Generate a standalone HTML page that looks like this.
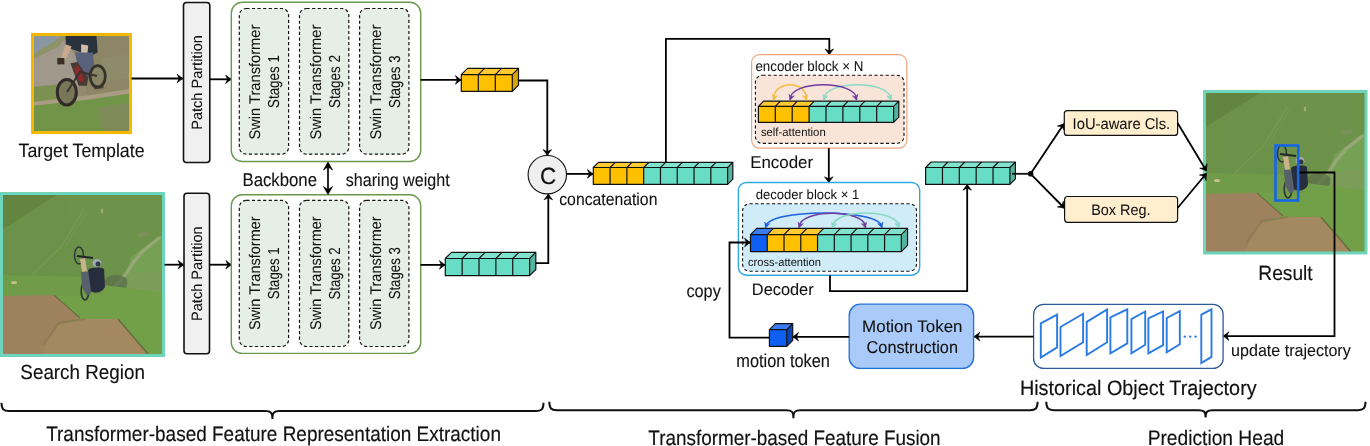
<!DOCTYPE html>
<html><head><meta charset="utf-8"><style>
html,body{margin:0;padding:0;background:#fff;width:1370px;height:446px;overflow:hidden}
svg{display:block;will-change:transform;text-rendering:geometricPrecision;font-family:"Liberation Sans",sans-serif}
</style></head><body>
<svg width="1370" height="446" viewBox="0 0 1370 446">
<rect width="1370" height="446" fill="#fff"/>
<defs><clipPath id="cpT"><rect x="33" y="35" width="97" height="98"/></clipPath><filter id="blur1" x="-10%" y="-10%" width="120%" height="120%"><feGaussianBlur stdDeviation="0.6"/></filter><filter id="blur2" x="-10%" y="-10%" width="120%" height="120%"><feGaussianBlur stdDeviation="0.7"/></filter></defs>
<g clip-path="url(#cpT)"><g filter="url(#blur1)">
<rect x="30" y="30" width="104" height="106" fill="#928A70"/>
<polygon points="65.6,30.0 134.0,30.0 134.0,91.8 89.4,101.3 77.5,58.5" fill="#8C8666" opacity="1"/>
<polygon points="30.0,53.8 65.6,39.5 82.3,68.0 77.5,91.8 30.0,91.8" fill="#A0988A" opacity="1"/>
<polygon points="30.0,30.0 68.0,30.0 53.8,41.9 30.0,56.1" fill="#8A96A2" opacity="1"/>
<polygon points="30.0,56.1 53.8,41.9 68.0,30.0 71.6,30.0 58.5,46.6 30.0,60.9" fill="#8E9468" opacity="1"/>
<polygon points="30.0,87.0 58.5,84.6 58.5,101.3 30.0,103.6" fill="#7C9150" opacity="1"/>
<polygon points="30.0,102.4 89.4,95.3 134.0,88.2 134.0,95.3 89.4,101.3 30.0,109.6" fill="#A89C82" opacity="1"/>
<polygon points="30.0,106.0 89.4,99.4 134.0,92.9 134.0,135.9 30.0,135.9" fill="#71944A" opacity="1"/>
<polygon points="96.5,108.4 134.0,101.3 134.0,135.9 106.0,135.9" fill="#7E8A58" opacity="1"/>
<polygon points="101.3,58.5 134.0,53.8 134.0,77.5 106.0,82.3" fill="#8E8A6A" opacity="1"/>
<polygon points="65.6,35.9 96.5,35.9 97.7,52.6 90.6,56.1 81.1,52.6 71.6,49.0 65.6,46.6" fill="#2C323E" opacity="1"/>
<polygon points="65.6,44.3 71.6,46.6 65.6,59.7 60.9,58.5" fill="#C9A88E" opacity="1"/>
<polygon points="57.3,58.0 64.4,58.0 64.4,64.4 57.3,64.4" fill="#3A2E28" opacity="1"/>
<polygon points="81.1,44.3 88.2,45.4 87.0,58.5 81.1,58.5" fill="#D2BCA8" opacity="1"/>
<polygon points="75.1,52.6 92.9,52.6 94.1,68.0 101.3,81.1 97.7,87.0 88.2,77.5 77.5,65.6" fill="#58627A" opacity="1"/>
<polygon points="91.8,79.9 102.4,78.7 103.6,88.2 94.1,89.4" fill="#5A4A40" opacity="1"/>
<polygon points="70.4,63.3 77.5,62.1 88.2,77.5 87.0,85.8 78.7,85.8" fill="#4A3A34" opacity="1"/>
<polygon points="73.9,68.0 78.7,66.1 84.2,80.4 79.9,82.7" fill="#8E2A2A" opacity="1"/>
<ellipse cx="66.8" cy="92.2" rx="9.5" ry="12.8" fill="#7A7658" stroke="#302C28" stroke-width="3"/>
<ellipse cx="97.7" cy="76.3" rx="7.6" ry="10.7" fill="#8A8466" stroke="#34302A" stroke-width="2.8"/>
<path d="M67 92 L80 72 L97 76" stroke="#3A3030" stroke-width="2" fill="none"/>
</g></g>
<rect x="32.5" y="34.5" width="98" height="98" fill="none" stroke="#F5B800" stroke-width="3"/>
<text x="18.62" y="157.00" font-size="19.11" text-anchor="start" fill="#111" stroke="#111" stroke-width="0.12" textLength="125.92" lengthAdjust="spacingAndGlyphs">Target Template</text>
<defs><g id="photo"><g filter="url(#blur2)"><rect x="-4" y="-4" width="168" height="168" fill="#6C9248"/><polygon points="-4.0,-4.0 60.0,-4.0 0.0,34.0 -4.0,34.0" fill="#648542" opacity="1"/><polygon points="60.0,-4.0 164.0,-4.0 164.0,60.0 120.0,90.0 80.0,70.0" fill="#6D924A" opacity="1"/><polygon points="128.0,62.0 164.0,36.0 164.0,100.0 118.0,100.0" fill="#76A052" opacity="1"/><path d="M81 14 L58 52 L25 84" stroke="#7E9C62" stroke-width="1.2" fill="none" opacity="0.6"/><path d="M84 16 L62 52" stroke="#7E9C62" stroke-width="1" fill="none" opacity="0.5"/><path d="M156 43 L140 56 L130 68 L122 80 L112 92" stroke="#A8AC88" stroke-width="3.5" fill="none" stroke-linecap="round" opacity="0.65"/><path d="M146 38 L136 40" stroke="#8A8E6A" stroke-width="4" fill="none" opacity="0.6"/><ellipse cx="113" cy="88" rx="12" ry="8" fill="#5E704A" opacity="0.8"/><polygon points="124.0,80.0 164.0,74.0 164.0,100.0 124.0,100.0" fill="#7E9C5C" opacity="0.8"/><polygon points="-4.0,82.0 100.0,90.0 164.0,98.0 164.0,164.0 -4.0,164.0" fill="#71A04A" opacity="1"/><polygon points="-4.0,80.0 90.0,82.0 100.0,100.0 -4.0,101.0" fill="#6F9C48" opacity="1"/><ellipse cx="11" cy="87.5" rx="3" ry="1.5" fill="#C8C090"/><ellipse cx="99" cy="16" rx="1.3" ry="2.6" fill="#B8B888" opacity="0.7"/><polygon points="-4.0,101.0 51.0,100.0 77.0,123.0 54.0,130.0 35.0,164.0 -4.0,164.0" fill="#9E8260" opacity="1"/><polygon points="35.0,164.0 54.0,130.0 81.0,124.0 115.0,124.0 144.0,158.0 148.0,164.0" fill="#A4885F" opacity="1"/><path d="M115 124 L145 159" stroke="#50502E" stroke-width="1.5" fill="none" opacity="0.6"/><path d="M51 100 L77 123" stroke="#50502E" stroke-width="1.2" fill="none" opacity="0.5"/><path d="M40 150 L56 128 L82 124" stroke="#8A6E50" stroke-width="2" fill="none" opacity="0.5"/><ellipse cx="76" cy="60.5" rx="4.5" ry="8.5" fill="none" stroke="#30363A" stroke-width="1.5"/><ellipse cx="82" cy="96" rx="3.8" ry="9" fill="none" stroke="#2E3430" stroke-width="1.6"/><path d="M74 61 L90 63" stroke="#22262A" stroke-width="2"/><polygon points="78.0,76.0 88.0,78.0 90.0,96.0 84.0,101.0 79.0,92.0" fill="#59606C" opacity="1"/><polygon points="77.0,64.0 82.0,63.0 84.0,76.0 79.0,77.0" fill="#C9B48A" opacity="1"/><path d="M85 75 C88 72 98 72 101 74 L102 92 C99 98 92 99 88 96 Z" fill="#262D3D"/><ellipse cx="94" cy="68" rx="4.5" ry="4" fill="#A4A8B2"/><ellipse cx="95" cy="69" rx="2.5" ry="2.5" fill="#303848"/></g></g><clipPath id="cpS"><rect x="3" y="195" width="159" height="159"/></clipPath><clipPath id="cpR"><rect x="1206" y="93" width="159" height="159"/></clipPath></defs>
<g clip-path="url(#cpS)"><use href="#photo" x="3.0" y="195.0"/></g>
<rect x="1.50" y="193.50" width="162.00" height="162.00" fill="none" stroke="#6ED5BC" stroke-width="3.0"/>
<text x="20.37" y="379.10" font-size="20.29" text-anchor="start" fill="#111" stroke="#111" stroke-width="0.15" textLength="124.54" lengthAdjust="spacingAndGlyphs">Search Region</text>
<path d="M131.50 78.50 L182.70 78.50" fill="none" stroke="#000" stroke-width="1.80" stroke-linejoin="miter"/>
<polygon points="182.70,78.50 177.10,82.80 179.10,78.50 177.10,74.20" fill="#000" stroke="#000" stroke-width="0.6" stroke-linejoin="round"/>
<path d="M164.50 264.70 L183.70 264.70" fill="none" stroke="#000" stroke-width="1.80" stroke-linejoin="miter"/>
<polygon points="183.70,264.70 178.10,269.00 180.10,264.70 178.10,260.40" fill="#000" stroke="#000" stroke-width="0.6" stroke-linejoin="round"/>
<rect x="183.5" y="2.5" width="26.3" height="160" rx="3" fill="#F0F0F0" stroke="#111" stroke-width="1.6"/>
<rect x="184" y="193.2" width="25.5" height="160.5" rx="3" fill="#F0F0F0" stroke="#111" stroke-width="1.6"/>
<text x="202.00" y="129.82" font-size="14.93" text-anchor="start" fill="#111" stroke="#111" stroke-width="0.04" textLength="94.65" lengthAdjust="spacingAndGlyphs" transform="rotate(-90 202.00 129.82)">Patch Partition</text>
<text x="202.00" y="320.96" font-size="15.12" text-anchor="start" fill="#111" stroke="#111" stroke-width="0.04" textLength="94.66" lengthAdjust="spacingAndGlyphs" transform="rotate(-90 202.00 320.96)">Patch Partition</text>
<path d="M209.80 79.30 L231.20 79.30" fill="none" stroke="#000" stroke-width="1.80" stroke-linejoin="miter"/>
<polygon points="231.20,79.30 225.60,83.60 227.60,79.30 225.60,75.00" fill="#000" stroke="#000" stroke-width="0.6" stroke-linejoin="round"/>
<path d="M209.40 264.70 L231.40 264.70" fill="none" stroke="#000" stroke-width="1.80" stroke-linejoin="miter"/>
<polygon points="231.40,264.70 225.80,269.00 227.80,264.70 225.80,260.40" fill="#000" stroke="#000" stroke-width="0.6" stroke-linejoin="round"/>
<rect x="231.3" y="2.20" width="189.4" height="159.30" rx="11" fill="#FFFFFF" stroke="#6B9A4F" stroke-width="1.4"/>
<rect x="239.30" y="8.50" width="49.3" height="145.70" rx="7" fill="#E6EFE6" stroke="#111" stroke-width="1.2" stroke-dasharray="3.2 2.4"/>
<text x="260.50" y="139.54" font-size="15.46" text-anchor="start" fill="#111" stroke="#111" stroke-width="0.05" textLength="114.86" lengthAdjust="spacingAndGlyphs" transform="rotate(-90 260.50 139.54)">Swin Transformer</text>
<text x="279.40" y="108.00" font-size="15.89" text-anchor="start" fill="#111" stroke="#111" stroke-width="0.06" textLength="52.87" lengthAdjust="spacingAndGlyphs" transform="rotate(-90 279.40 108.00)">Stages 1</text>
<rect x="299.50" y="8.50" width="49.3" height="145.70" rx="7" fill="#E6EFE6" stroke="#111" stroke-width="1.2" stroke-dasharray="3.2 2.4"/>
<text x="320.70" y="139.54" font-size="15.46" text-anchor="start" fill="#111" stroke="#111" stroke-width="0.05" textLength="114.86" lengthAdjust="spacingAndGlyphs" transform="rotate(-90 320.70 139.54)">Swin Transformer</text>
<text x="339.60" y="108.00" font-size="15.89" text-anchor="start" fill="#111" stroke="#111" stroke-width="0.06" textLength="52.87" lengthAdjust="spacingAndGlyphs" transform="rotate(-90 339.60 108.00)">Stages 2</text>
<rect x="359.60" y="8.50" width="49.3" height="145.70" rx="7" fill="#E6EFE6" stroke="#111" stroke-width="1.2" stroke-dasharray="3.2 2.4"/>
<text x="380.80" y="139.54" font-size="15.46" text-anchor="start" fill="#111" stroke="#111" stroke-width="0.05" textLength="114.86" lengthAdjust="spacingAndGlyphs" transform="rotate(-90 380.80 139.54)">Swin Transformer</text>
<text x="399.70" y="107.98" font-size="15.88" text-anchor="start" fill="#111" stroke="#111" stroke-width="0.06" textLength="52.64" lengthAdjust="spacingAndGlyphs" transform="rotate(-90 399.70 107.98)">Stages 3</text>
<rect x="231.3" y="194.70" width="189.4" height="158.70" rx="11" fill="#FFFFFF" stroke="#6B9A4F" stroke-width="1.4"/>
<rect x="239.30" y="200.40" width="49.3" height="146.10" rx="7" fill="#E6EFE6" stroke="#111" stroke-width="1.2" stroke-dasharray="3.2 2.4"/>
<text x="260.50" y="330.07" font-size="15.48" text-anchor="start" fill="#111" stroke="#111" stroke-width="0.05" textLength="113.76" lengthAdjust="spacingAndGlyphs" transform="rotate(-90 260.50 330.07)">Swin Transformer</text>
<text x="279.40" y="299.36" font-size="15.94" text-anchor="start" fill="#111" stroke="#111" stroke-width="0.06" textLength="52.01" lengthAdjust="spacingAndGlyphs" transform="rotate(-90 279.40 299.36)">Stages 1</text>
<rect x="299.50" y="200.40" width="49.3" height="146.10" rx="7" fill="#E6EFE6" stroke="#111" stroke-width="1.2" stroke-dasharray="3.2 2.4"/>
<text x="320.70" y="330.07" font-size="15.48" text-anchor="start" fill="#111" stroke="#111" stroke-width="0.05" textLength="113.76" lengthAdjust="spacingAndGlyphs" transform="rotate(-90 320.70 330.07)">Swin Transformer</text>
<text x="339.60" y="299.48" font-size="15.92" text-anchor="start" fill="#111" stroke="#111" stroke-width="0.06" textLength="52.16" lengthAdjust="spacingAndGlyphs" transform="rotate(-90 339.60 299.48)">Stages 2</text>
<rect x="359.60" y="200.40" width="49.3" height="146.10" rx="7" fill="#E6EFE6" stroke="#111" stroke-width="1.2" stroke-dasharray="3.2 2.4"/>
<text x="380.80" y="330.07" font-size="15.48" text-anchor="start" fill="#111" stroke="#111" stroke-width="0.05" textLength="113.76" lengthAdjust="spacingAndGlyphs" transform="rotate(-90 380.80 330.07)">Swin Transformer</text>
<text x="399.70" y="299.36" font-size="15.91" text-anchor="start" fill="#111" stroke="#111" stroke-width="0.06" textLength="52.17" lengthAdjust="spacingAndGlyphs" transform="rotate(-90 399.70 299.36)">Stages 3</text>
<path d="M328 165 V191" stroke="#111" stroke-width="1.8"/>
<polygon points="328.00,162.00 332.60,170.00 328.00,167.00 323.40,170.00" fill="#000" stroke="#000" stroke-width="0.6" stroke-linejoin="round"/>
<polygon points="328.00,194.50 323.40,186.50 328.00,189.50 332.60,186.50" fill="#000" stroke="#000" stroke-width="0.6" stroke-linejoin="round"/>
<text x="242.46" y="185.70" font-size="18.40" text-anchor="start" fill="#111" stroke="#111" stroke-width="0.11" textLength="74.55" lengthAdjust="spacingAndGlyphs">Backbone</text>
<text x="345.76" y="185.60" font-size="17.95" text-anchor="start" fill="#111" stroke="#111" stroke-width="0.10" textLength="103.92" lengthAdjust="spacingAndGlyphs">sharing weight</text>
<path d="M420.60 79.90 L461.00 79.90" fill="none" stroke="#000" stroke-width="1.80" stroke-linejoin="miter"/>
<polygon points="461.00,79.90 455.40,84.20 457.40,79.90 455.40,75.60" fill="#000" stroke="#000" stroke-width="0.6" stroke-linejoin="round"/>
<rect x="461.30" y="74.60" width="17.00" height="16.80" fill="#FFC000"/>
<polygon points="461.30,74.60 467.50,68.40 484.50,68.40 478.30,74.60" fill="#FFCB30"/>
<rect x="478.30" y="74.60" width="17.00" height="16.80" fill="#FFC000"/>
<polygon points="478.30,74.60 484.50,68.40 501.50,68.40 495.30,74.60" fill="#FFCB30"/>
<rect x="495.30" y="74.60" width="17.00" height="16.80" fill="#FFC000"/>
<polygon points="495.30,74.60 501.50,68.40 518.50,68.40 512.30,74.60" fill="#FFCB30"/>
<polygon points="512.30,74.60 518.50,68.40 518.50,85.20 512.30,91.40" fill="#D9A400"/>
<path d="M461.30 74.60 H512.30 V91.40 H461.30 Z M461.30 74.60 L467.50 68.40 H518.50 L512.30 74.60 M518.50 68.40 V85.20 L512.30 91.40 M478.30 91.40 V74.60 M478.30 74.60 L484.50 68.40 M495.30 91.40 V74.60 M495.30 74.60 L501.50 68.40" fill="none" stroke="#111" stroke-width="1.20" stroke-linejoin="round"/>
<path d="M420.40 264.90 L445.00 264.90" fill="none" stroke="#000" stroke-width="1.80" stroke-linejoin="miter"/>
<polygon points="445.00,264.90 439.40,269.20 441.40,264.90 439.40,260.60" fill="#000" stroke="#000" stroke-width="0.6" stroke-linejoin="round"/>
<rect x="445.30" y="258.50" width="16.86" height="17.20" fill="#67DDC6"/>
<polygon points="445.30,258.50 451.50,252.30 468.36,252.30 462.16,258.50" fill="#7FE3CF"/>
<rect x="462.16" y="258.50" width="16.86" height="17.20" fill="#67DDC6"/>
<polygon points="462.16,258.50 468.36,252.30 485.22,252.30 479.02,258.50" fill="#7FE3CF"/>
<rect x="479.02" y="258.50" width="16.86" height="17.20" fill="#67DDC6"/>
<polygon points="479.02,258.50 485.22,252.30 502.08,252.30 495.88,258.50" fill="#7FE3CF"/>
<rect x="495.88" y="258.50" width="16.86" height="17.20" fill="#67DDC6"/>
<polygon points="495.88,258.50 502.08,252.30 518.94,252.30 512.74,258.50" fill="#7FE3CF"/>
<rect x="512.74" y="258.50" width="16.86" height="17.20" fill="#67DDC6"/>
<polygon points="512.74,258.50 518.94,252.30 535.80,252.30 529.60,258.50" fill="#7FE3CF"/>
<polygon points="529.60,258.50 535.80,252.30 535.80,269.50 529.60,275.70" fill="#52B59F"/>
<path d="M445.30 258.50 H529.60 V275.70 H445.30 Z M445.30 258.50 L451.50 252.30 H535.80 L529.60 258.50 M535.80 252.30 V269.50 L529.60 275.70 M462.16 275.70 V258.50 M462.16 258.50 L468.36 252.30 M479.02 275.70 V258.50 M479.02 258.50 L485.22 252.30 M495.88 275.70 V258.50 M495.88 258.50 L502.08 252.30 M512.74 275.70 V258.50 M512.74 258.50 L518.94 252.30" fill="none" stroke="#111" stroke-width="1.20" stroke-linejoin="round"/>
<path d="M518.50 80.50 L547.30 80.50 L547.30 155.20" fill="none" stroke="#000" stroke-width="1.80" stroke-linejoin="miter"/>
<polygon points="547.30,155.20 543.00,149.60 547.30,151.60 551.60,149.60" fill="#000" stroke="#000" stroke-width="0.6" stroke-linejoin="round"/>
<path d="M535.50 263.20 L548.30 263.20 L548.30 194.20" fill="none" stroke="#000" stroke-width="1.80" stroke-linejoin="miter"/>
<polygon points="548.30,194.20 552.60,199.80 548.30,197.80 544.00,199.80" fill="#000" stroke="#000" stroke-width="0.6" stroke-linejoin="round"/>
<circle cx="547.3" cy="174.7" r="19.2" fill="#EFEFEF" stroke="#111" stroke-width="1.1"/>
<text x="540.03" y="183.60" font-size="23.50" text-anchor="start" fill="#111" stroke="#111" stroke-width="0.21" textLength="16.21" lengthAdjust="spacingAndGlyphs">C</text>
<path d="M566.50 173.90 L593.00 173.90" fill="none" stroke="#000" stroke-width="1.80" stroke-linejoin="miter"/>
<polygon points="593.00,173.90 587.40,178.20 589.40,173.90 587.40,169.60" fill="#000" stroke="#000" stroke-width="0.6" stroke-linejoin="round"/>
<rect x="593.30" y="167.50" width="16.79" height="16.90" fill="#FFC000"/>
<polygon points="593.30,167.50 598.50,162.30 615.29,162.30 610.09,167.50" fill="#FFCB30"/>
<rect x="610.09" y="167.50" width="16.79" height="16.90" fill="#FFC000"/>
<polygon points="610.09,167.50 615.29,162.30 632.08,162.30 626.88,167.50" fill="#FFCB30"/>
<rect x="626.88" y="167.50" width="16.79" height="16.90" fill="#FFC000"/>
<polygon points="626.88,167.50 632.08,162.30 648.87,162.30 643.67,167.50" fill="#FFCB30"/>
<rect x="643.67" y="167.50" width="16.79" height="16.90" fill="#67DDC6"/>
<polygon points="643.67,167.50 648.87,162.30 665.66,162.30 660.46,167.50" fill="#7FE3CF"/>
<rect x="660.46" y="167.50" width="16.79" height="16.90" fill="#67DDC6"/>
<polygon points="660.46,167.50 665.66,162.30 682.45,162.30 677.25,167.50" fill="#7FE3CF"/>
<rect x="677.25" y="167.50" width="16.79" height="16.90" fill="#67DDC6"/>
<polygon points="677.25,167.50 682.45,162.30 699.24,162.30 694.04,167.50" fill="#7FE3CF"/>
<rect x="694.04" y="167.50" width="16.79" height="16.90" fill="#67DDC6"/>
<polygon points="694.04,167.50 699.24,162.30 716.03,162.30 710.83,167.50" fill="#7FE3CF"/>
<rect x="710.83" y="167.50" width="16.79" height="16.90" fill="#67DDC6"/>
<polygon points="710.83,167.50 716.03,162.30 732.82,162.30 727.62,167.50" fill="#7FE3CF"/>
<polygon points="727.62,167.50 732.82,162.30 732.82,179.20 727.62,184.40" fill="#52B59F"/>
<path d="M593.30 167.50 H727.62 V184.40 H593.30 Z M593.30 167.50 L598.50 162.30 H732.82 L727.62 167.50 M732.82 162.30 V179.20 L727.62 184.40 M610.09 184.40 V167.50 M610.09 167.50 L615.29 162.30 M626.88 184.40 V167.50 M626.88 167.50 L632.08 162.30 M643.67 184.40 V167.50 M643.67 167.50 L648.87 162.30 M660.46 184.40 V167.50 M660.46 167.50 L665.66 162.30 M677.25 184.40 V167.50 M677.25 167.50 L682.45 162.30 M694.04 184.40 V167.50 M694.04 167.50 L699.24 162.30 M710.83 184.40 V167.50 M710.83 167.50 L716.03 162.30" fill="none" stroke="#111" stroke-width="1.20" stroke-linejoin="round"/>
<text x="559.24" y="204.80" font-size="17.31" text-anchor="start" fill="#111" stroke="#111" stroke-width="0.09" textLength="98.17" lengthAdjust="spacingAndGlyphs">concatenation</text>
<path d="M665.90 162.50 L665.90 38.90 L829.30 38.90 L829.30 54.60" fill="none" stroke="#000" stroke-width="1.80" stroke-linejoin="miter"/>
<polygon points="829.30,54.60 825.00,49.00 829.30,51.00 833.60,49.00" fill="#000" stroke="#000" stroke-width="0.6" stroke-linejoin="round"/>
<rect x="751.6" y="54.6" width="155.2" height="93.5" rx="8" fill="#FFFFFF" stroke="#F2A57E" stroke-width="1.2"/>
<rect x="755.4" y="75.3" width="148.6" height="68.1" rx="7" fill="#F9E4DA" stroke="#111" stroke-width="1.1" stroke-dasharray="3.2 2.4"/>
<text x="755.41" y="71.30" font-size="14.28" text-anchor="start" fill="#111" stroke="#111" stroke-width="0.03" textLength="107.92" lengthAdjust="spacingAndGlyphs">encoder block × N</text>
<rect x="758.40" y="106.40" width="16.90" height="16.00" fill="#FFC000"/>
<polygon points="758.40,106.40 763.60,101.20 780.50,101.20 775.30,106.40" fill="#FFCB30"/>
<rect x="775.30" y="106.40" width="16.90" height="16.00" fill="#FFC000"/>
<polygon points="775.30,106.40 780.50,101.20 797.40,101.20 792.20,106.40" fill="#FFCB30"/>
<rect x="792.20" y="106.40" width="16.90" height="16.00" fill="#FFC000"/>
<polygon points="792.20,106.40 797.40,101.20 814.30,101.20 809.10,106.40" fill="#FFCB30"/>
<rect x="809.10" y="106.40" width="16.90" height="16.00" fill="#67DDC6"/>
<polygon points="809.10,106.40 814.30,101.20 831.20,101.20 826.00,106.40" fill="#7FE3CF"/>
<rect x="826.00" y="106.40" width="16.90" height="16.00" fill="#67DDC6"/>
<polygon points="826.00,106.40 831.20,101.20 848.10,101.20 842.90,106.40" fill="#7FE3CF"/>
<rect x="842.90" y="106.40" width="16.90" height="16.00" fill="#67DDC6"/>
<polygon points="842.90,106.40 848.10,101.20 865.00,101.20 859.80,106.40" fill="#7FE3CF"/>
<rect x="859.80" y="106.40" width="16.90" height="16.00" fill="#67DDC6"/>
<polygon points="859.80,106.40 865.00,101.20 881.90,101.20 876.70,106.40" fill="#7FE3CF"/>
<rect x="876.70" y="106.40" width="16.90" height="16.00" fill="#67DDC6"/>
<polygon points="876.70,106.40 881.90,101.20 898.80,101.20 893.60,106.40" fill="#7FE3CF"/>
<polygon points="893.60,106.40 898.80,101.20 898.80,117.20 893.60,122.40" fill="#52B59F"/>
<path d="M758.40 106.40 H893.60 V122.40 H758.40 Z M758.40 106.40 L763.60 101.20 H898.80 L893.60 106.40 M898.80 101.20 V117.20 L893.60 122.40 M775.30 122.40 V106.40 M775.30 106.40 L780.50 101.20 M792.20 122.40 V106.40 M792.20 106.40 L797.40 101.20 M809.10 122.40 V106.40 M809.10 106.40 L814.30 101.20 M826.00 122.40 V106.40 M826.00 106.40 L831.20 101.20 M842.90 122.40 V106.40 M842.90 106.40 L848.10 101.20 M859.80 122.40 V106.40 M859.80 106.40 L865.00 101.20 M876.70 122.40 V106.40 M876.70 106.40 L881.90 101.20" fill="none" stroke="#111" stroke-width="1.20" stroke-linejoin="round"/>
<path d="M773.50 99.50 C773.50 79.77 806.50 79.77 806.50 99.50" fill="none" stroke="#F2BE3C" stroke-width="1.5"/>
<polygon points="773.50,100.30 772.49,94.26 774.59,96.66 777.67,95.81" fill="#F2BE3C" stroke="#F2BE3C" stroke-width="0.6" stroke-linejoin="round"/>
<polygon points="806.50,100.30 802.33,95.81 805.41,96.66 807.51,94.26" fill="#F2BE3C" stroke="#F2BE3C" stroke-width="0.6" stroke-linejoin="round"/>
<path d="M823.90 99.50 C823.90 79.77 890.80 79.77 890.80 99.50" fill="none" stroke="#86D9C4" stroke-width="1.5"/>
<polygon points="823.90,100.30 822.89,94.26 824.99,96.66 828.07,95.81" fill="#86D9C4" stroke="#86D9C4" stroke-width="0.6" stroke-linejoin="round"/>
<polygon points="890.80,100.30 886.63,95.81 889.71,96.66 891.81,94.26" fill="#86D9C4" stroke="#86D9C4" stroke-width="0.6" stroke-linejoin="round"/>
<path d="M790.10 99.50 C790.10 79.77 856.60 79.77 856.60 99.50" fill="none" stroke="#6E3CA0" stroke-width="1.5"/>
<polygon points="790.10,100.30 789.09,94.26 791.19,96.66 794.27,95.81" fill="#6E3CA0" stroke="#6E3CA0" stroke-width="0.6" stroke-linejoin="round"/>
<polygon points="856.60,100.30 852.43,95.81 855.51,96.66 857.61,94.26" fill="#6E3CA0" stroke="#6E3CA0" stroke-width="0.6" stroke-linejoin="round"/>
<text x="760.90" y="136.00" font-size="11.77" text-anchor="start" fill="#111" stroke="#111" stroke-width="0.00" textLength="64.79" lengthAdjust="spacingAndGlyphs">self-attention</text>
<text x="750.14" y="168.10" font-size="17.12" text-anchor="start" fill="#111" stroke="#111" stroke-width="0.08" textLength="62.96" lengthAdjust="spacingAndGlyphs">Encoder</text>
<path d="M828.80 148.20 L828.80 182.40" fill="none" stroke="#000" stroke-width="1.80" stroke-linejoin="miter"/>
<polygon points="828.80,182.40 824.50,176.80 828.80,178.80 833.10,176.80" fill="#000" stroke="#000" stroke-width="0.6" stroke-linejoin="round"/>
<rect x="738.4" y="182.5" width="181.3" height="92.7" rx="8" fill="#FFFFFF" stroke="#2FA8E0" stroke-width="1.4"/>
<rect x="742.6" y="203.7" width="173.9" height="67.5" rx="7" fill="#D0ECF8" stroke="#111" stroke-width="1.1" stroke-dasharray="3.2 2.4"/>
<text x="755.67" y="199.20" font-size="13.39" text-anchor="start" fill="#111" stroke="#111" stroke-width="0.01" textLength="103.73" lengthAdjust="spacingAndGlyphs">decoder block × 1</text>
<rect x="750.50" y="234.60" width="16.76" height="17.00" fill="#0F5FF2"/>
<polygon points="750.50,234.60 756.70,228.40 773.46,228.40 767.26,234.60" fill="#3A7CF2"/>
<rect x="767.26" y="234.60" width="16.76" height="17.00" fill="#FFC000"/>
<polygon points="767.26,234.60 773.46,228.40 790.22,228.40 784.02,234.60" fill="#FFCB30"/>
<rect x="784.02" y="234.60" width="16.76" height="17.00" fill="#FFC000"/>
<polygon points="784.02,234.60 790.22,228.40 806.98,228.40 800.78,234.60" fill="#FFCB30"/>
<rect x="800.78" y="234.60" width="16.76" height="17.00" fill="#FFC000"/>
<polygon points="800.78,234.60 806.98,228.40 823.74,228.40 817.54,234.60" fill="#FFCB30"/>
<rect x="817.54" y="234.60" width="16.76" height="17.00" fill="#67DDC6"/>
<polygon points="817.54,234.60 823.74,228.40 840.50,228.40 834.30,234.60" fill="#7FE3CF"/>
<rect x="834.30" y="234.60" width="16.76" height="17.00" fill="#67DDC6"/>
<polygon points="834.30,234.60 840.50,228.40 857.26,228.40 851.06,234.60" fill="#7FE3CF"/>
<rect x="851.06" y="234.60" width="16.76" height="17.00" fill="#67DDC6"/>
<polygon points="851.06,234.60 857.26,228.40 874.02,228.40 867.82,234.60" fill="#7FE3CF"/>
<rect x="867.82" y="234.60" width="16.76" height="17.00" fill="#67DDC6"/>
<polygon points="867.82,234.60 874.02,228.40 890.78,228.40 884.58,234.60" fill="#7FE3CF"/>
<rect x="884.58" y="234.60" width="16.76" height="17.00" fill="#67DDC6"/>
<polygon points="884.58,234.60 890.78,228.40 907.54,228.40 901.34,234.60" fill="#7FE3CF"/>
<polygon points="901.34,234.60 907.54,228.40 907.54,245.40 901.34,251.60" fill="#52B59F"/>
<path d="M750.50 234.60 H901.34 V251.60 H750.50 Z M750.50 234.60 L756.70 228.40 H907.54 L901.34 234.60 M907.54 228.40 V245.40 L901.34 251.60 M767.26 251.60 V234.60 M767.26 234.60 L773.46 228.40 M784.02 251.60 V234.60 M784.02 234.60 L790.22 228.40 M800.78 251.60 V234.60 M800.78 234.60 L806.98 228.40 M817.54 251.60 V234.60 M817.54 234.60 L823.74 228.40 M834.30 251.60 V234.60 M834.30 234.60 L840.50 228.40 M851.06 251.60 V234.60 M851.06 234.60 L857.26 228.40 M867.82 251.60 V234.60 M867.82 234.60 L874.02 228.40 M884.58 251.60 V234.60 M884.58 234.60 L890.78 228.40" fill="none" stroke="#111" stroke-width="1.20" stroke-linejoin="round"/>
<path d="M765.60 227.30 C765.60 208.10 881.90 208.10 881.90 227.30" fill="none" stroke="#1F5FE0" stroke-width="1.5"/>
<polygon points="765.60,228.10 764.59,222.06 766.69,224.46 769.77,223.61" fill="#1F5FE0" stroke="#1F5FE0" stroke-width="0.6" stroke-linejoin="round"/>
<polygon points="881.90,228.10 877.73,223.61 880.81,224.46 882.91,222.06" fill="#1F5FE0" stroke="#1F5FE0" stroke-width="0.6" stroke-linejoin="round"/>
<path d="M799.10 227.30 C799.10 208.63 865.50 208.63 865.50 227.30" fill="none" stroke="#6E3CA0" stroke-width="1.5"/>
<polygon points="799.10,228.10 798.09,222.06 800.19,224.46 803.27,223.61" fill="#6E3CA0" stroke="#6E3CA0" stroke-width="0.6" stroke-linejoin="round"/>
<polygon points="865.50,228.10 861.33,223.61 864.41,224.46 866.51,222.06" fill="#6E3CA0" stroke="#6E3CA0" stroke-width="0.6" stroke-linejoin="round"/>
<path d="M832.60 227.30 C832.60 208.23 899.00 208.23 899.00 227.30" fill="none" stroke="#86D9C4" stroke-width="1.5"/>
<polygon points="832.60,228.10 831.59,222.06 833.69,224.46 836.77,223.61" fill="#86D9C4" stroke="#86D9C4" stroke-width="0.6" stroke-linejoin="round"/>
<polygon points="899.00,228.10 894.83,223.61 897.91,224.46 900.01,222.06" fill="#86D9C4" stroke="#86D9C4" stroke-width="0.6" stroke-linejoin="round"/>
<text x="748.07" y="265.80" font-size="11.56" text-anchor="start" fill="#111" stroke="#111" stroke-width="0.00" textLength="72.82" lengthAdjust="spacingAndGlyphs">cross-attention</text>
<text x="751.86" y="295.40" font-size="16.54" text-anchor="start" fill="#111" stroke="#111" stroke-width="0.07" textLength="61.77" lengthAdjust="spacingAndGlyphs">Decoder</text>
<path d="M830.00 275.20 L830.00 291.10 L967.20 291.10 L967.20 184.60" fill="none" stroke="#000" stroke-width="1.80" stroke-linejoin="miter"/>
<polygon points="967.20,184.60 971.50,190.20 967.20,188.20 962.90,190.20" fill="#000" stroke="#000" stroke-width="0.6" stroke-linejoin="round"/>
<rect x="925.60" y="167.50" width="16.86" height="16.90" fill="#67DDC6"/>
<polygon points="925.60,167.50 931.10,162.00 947.96,162.00 942.46,167.50" fill="#7FE3CF"/>
<rect x="942.46" y="167.50" width="16.86" height="16.90" fill="#67DDC6"/>
<polygon points="942.46,167.50 947.96,162.00 964.82,162.00 959.32,167.50" fill="#7FE3CF"/>
<rect x="959.32" y="167.50" width="16.86" height="16.90" fill="#67DDC6"/>
<polygon points="959.32,167.50 964.82,162.00 981.68,162.00 976.18,167.50" fill="#7FE3CF"/>
<rect x="976.18" y="167.50" width="16.86" height="16.90" fill="#67DDC6"/>
<polygon points="976.18,167.50 981.68,162.00 998.54,162.00 993.04,167.50" fill="#7FE3CF"/>
<rect x="993.04" y="167.50" width="16.86" height="16.90" fill="#67DDC6"/>
<polygon points="993.04,167.50 998.54,162.00 1015.40,162.00 1009.90,167.50" fill="#7FE3CF"/>
<polygon points="1009.90,167.50 1015.40,162.00 1015.40,178.90 1009.90,184.40" fill="#52B59F"/>
<path d="M925.60 167.50 H1009.90 V184.40 H925.60 Z M925.60 167.50 L931.10 162.00 H1015.40 L1009.90 167.50 M1015.40 162.00 V178.90 L1009.90 184.40 M942.46 184.40 V167.50 M942.46 167.50 L947.96 162.00 M959.32 184.40 V167.50 M959.32 167.50 L964.82 162.00 M976.18 184.40 V167.50 M976.18 167.50 L981.68 162.00 M993.04 184.40 V167.50 M993.04 167.50 L998.54 162.00" fill="none" stroke="#111" stroke-width="1.20" stroke-linejoin="round"/>
<path d="M1012 173.8 H1030.6" stroke="#111" stroke-width="1.8"/>
<circle cx="1030.6" cy="173.8" r="2.8" fill="#111"/>
<path d="M1030.60 173.80 L1064.00 123.80" fill="none" stroke="#000" stroke-width="1.80" stroke-linejoin="miter"/>
<polygon points="1064.00,123.80 1064.46,130.85 1062.00,126.79 1057.31,126.07" fill="#000" stroke="#000" stroke-width="0.6" stroke-linejoin="round"/>
<path d="M1030.60 173.80 L1064.30 208.00" fill="none" stroke="#000" stroke-width="1.80" stroke-linejoin="miter"/>
<polygon points="1064.30,208.00 1057.31,207.03 1061.77,205.44 1063.43,200.99" fill="#000" stroke="#000" stroke-width="0.6" stroke-linejoin="round"/>
<rect x="1064.3" y="110.6" width="113.3" height="24.8" rx="3" fill="#FFEFCF" stroke="#111" stroke-width="1.2"/>
<text x="1072.59" y="128.90" font-size="15.55" text-anchor="start" fill="#111" stroke="#111" stroke-width="0.05" textLength="97.53" lengthAdjust="spacingAndGlyphs">IoU-aware Cls.</text>
<rect x="1064.6" y="196.5" width="113" height="25.8" rx="3" fill="#FFEFCF" stroke="#111" stroke-width="1.2"/>
<text x="1091.13" y="214.70" font-size="15.31" text-anchor="start" fill="#111" stroke="#111" stroke-width="0.05" textLength="59.42" lengthAdjust="spacingAndGlyphs">Box Reg.</text>
<g clip-path="url(#cpR)"><use href="#photo" x="1206.0" y="93.0"/></g>
<rect x="1204.50" y="91.50" width="161.50" height="161.50" fill="none" stroke="#6ED5BC" stroke-width="3.0"/>
<path d="M1177.60 123.00 L1206.30 170.80" fill="none" stroke="#000" stroke-width="1.80" stroke-linejoin="miter"/>
<polygon points="1206.30,170.80 1199.73,168.21 1204.45,167.71 1207.10,163.79" fill="#000" stroke="#000" stroke-width="0.6" stroke-linejoin="round"/>
<path d="M1177.60 208.00 L1206.30 173.50" fill="none" stroke="#000" stroke-width="1.80" stroke-linejoin="miter"/>
<polygon points="1206.30,173.50 1206.02,180.56 1204.00,176.27 1199.41,175.06" fill="#000" stroke="#000" stroke-width="0.6" stroke-linejoin="round"/>
<rect x="1275.5" y="145.5" width="22.7" height="55" fill="none" stroke="#1565E6" stroke-width="2.6"/>
<text x="1258.30" y="279.50" font-size="20.60" text-anchor="start" fill="#111" stroke="#111" stroke-width="0.15" textLength="54.37" lengthAdjust="spacingAndGlyphs">Result</text>
<path d="M1299.40 172.50 L1334.50 172.50 L1334.50 336.10 L1223.30 336.10" fill="none" stroke="#000" stroke-width="1.80" stroke-linejoin="miter"/>
<polygon points="1223.30,336.10 1228.90,331.80 1226.90,336.10 1228.90,340.40" fill="#000" stroke="#000" stroke-width="0.6" stroke-linejoin="round"/>
<text x="1231.08" y="355.70" font-size="16.82" text-anchor="start" fill="#111" stroke="#111" stroke-width="0.08" textLength="119.65" lengthAdjust="spacingAndGlyphs">update trajectory</text>
<rect x="1033.6" y="304.4" width="189.5" height="64" rx="10" fill="#FFFFFF" stroke="#2F5A9A" stroke-width="1.3"/>
<polygon points="1040.8,323.3 1057.1,314.6 1057.1,347.4 1040.8,357.6" fill="#FFFFFF" stroke="#2A7BE4" stroke-width="1.9"/>
<polygon points="1060.5,327.0 1083.1,313.8 1083.1,342.3 1060.5,356.1" fill="#FFFFFF" stroke="#2A7BE4" stroke-width="1.9"/>
<polygon points="1086.7,321.9 1107.1,309.5 1107.1,342.3 1086.7,355.1" fill="#FFFFFF" stroke="#2A7BE4" stroke-width="1.9"/>
<polygon points="1110.4,317.4 1127.3,309.3 1127.3,343.4 1110.4,353.3" fill="#FFFFFF" stroke="#2A7BE4" stroke-width="1.9"/>
<polygon points="1131.4,319.2 1145.2,311.5 1145.2,344.8 1131.4,353.3" fill="#FFFFFF" stroke="#2A7BE4" stroke-width="1.9"/>
<polygon points="1148.4,318.3 1163.1,311.5 1163.1,345.2 1148.4,353.3" fill="#FFFFFF" stroke="#2A7BE4" stroke-width="1.9"/>
<polygon points="1166.7,318.0 1179.8,311.1 1179.8,344.3 1166.7,352.4" fill="#FFFFFF" stroke="#2A7BE4" stroke-width="1.9"/>
<polygon points="1201.3,314.7 1211.5,309.3 1211.5,356.9 1201.3,363.1" fill="#FFFFFF" stroke="#2A7BE4" stroke-width="1.9"/>
<circle cx="1184.8" cy="336.6" r="1.2" fill="#2A7BE4"/>
<circle cx="1190.2" cy="336.6" r="1.2" fill="#2A7BE4"/>
<circle cx="1195.6" cy="336.6" r="1.2" fill="#2A7BE4"/>
<text x="1019.92" y="395.10" font-size="20.80" text-anchor="start" fill="#111" stroke="#111" stroke-width="0.16" textLength="236.75" lengthAdjust="spacingAndGlyphs">Historical Object Trajectory</text>
<path d="M1033.60 336.60 L974.20 336.60" fill="none" stroke="#000" stroke-width="1.80" stroke-linejoin="miter"/>
<polygon points="974.20,336.60 979.80,332.30 977.80,336.60 979.80,340.90" fill="#000" stroke="#000" stroke-width="0.6" stroke-linejoin="round"/>
<rect x="849.2" y="304.2" width="124.4" height="64.2" rx="11" fill="#AACBF9" stroke="#2070D8" stroke-width="1.3"/>
<text x="862.14" y="332.00" font-size="16.78" text-anchor="start" fill="#111" stroke="#111" stroke-width="0.08" textLength="100.42" lengthAdjust="spacingAndGlyphs">Motion Token</text>
<text x="866.61" y="353.00" font-size="17.26" text-anchor="start" fill="#111" stroke="#111" stroke-width="0.09" textLength="91.33" lengthAdjust="spacingAndGlyphs">Construction</text>
<path d="M849.20 336.80 L792.90 336.80" fill="none" stroke="#000" stroke-width="1.80" stroke-linejoin="miter"/>
<polygon points="792.90,336.80 798.50,332.50 796.50,336.80 798.50,341.10" fill="#000" stroke="#000" stroke-width="0.6" stroke-linejoin="round"/>
<rect x="769.40" y="329.60" width="17.40" height="16.70" fill="#0F5FF2"/>
<polygon points="769.40,329.60 775.30,323.70 792.70,323.70 786.80,329.60" fill="#3A7CF2"/>
<polygon points="786.80,329.60 792.70,323.70 792.70,340.40 786.80,346.30" fill="#0A45B5"/>
<path d="M769.40 329.60 H786.80 V346.30 H769.40 Z M769.40 329.60 L775.30 323.70 H792.70 L786.80 329.60 M792.70 323.70 V340.40 L786.80 346.30" fill="none" stroke="#111" stroke-width="1.20" stroke-linejoin="round"/>
<text x="736.31" y="366.80" font-size="18.67" text-anchor="start" fill="#111" stroke="#111" stroke-width="0.11" textLength="93.62" lengthAdjust="spacingAndGlyphs">motion token</text>
<path d="M769.40 337.70 L729.50 337.70 L729.50 242.50 L750.20 242.50" fill="none" stroke="#000" stroke-width="1.80" stroke-linejoin="miter"/>
<polygon points="750.20,242.50 744.60,246.80 746.60,242.50 744.60,238.20" fill="#000" stroke="#000" stroke-width="0.6" stroke-linejoin="round"/>
<text x="686.42" y="296.80" font-size="17.89" text-anchor="start" fill="#111" stroke="#111" stroke-width="0.10" textLength="34.43" lengthAdjust="spacingAndGlyphs">copy</text>
<path d="M1.5 402.7 C1.5 409.1 3.5 411.1 9.0 411.1 H265.4 C270.4 411.1 272.4 412.1 272.4 418.9 C272.4 412.1 274.4 411.1 279.4 411.1 H536.0 C541.5 411.1 543.5 409.1 543.5 402.7" fill="none" stroke="#111" stroke-width="2.0"/>
<path d="M549.3 401.8 C549.3 408.3 551.3 410.3 556.8 410.3 H786.4 C791.4 410.3 793.4 411.3 793.4 418.2 C793.4 411.3 795.4 410.3 800.4 410.3 H1030.1 C1035.6 410.3 1037.6 408.3 1037.6 401.8" fill="none" stroke="#111" stroke-width="2.0"/>
<path d="M1046.3 401.8 C1046.3 408.2 1048.3 410.2 1053.8 410.2 H1198.6 C1203.6 410.2 1205.6 411.2 1205.6 417.6 C1205.6 411.2 1207.6 410.2 1212.6 410.2 H1358.0 C1363.5 410.2 1365.5 408.2 1365.5 401.8" fill="none" stroke="#111" stroke-width="2.0"/>
<text x="46.14" y="441.10" font-size="21.00" text-anchor="start" fill="#111" stroke="#111" stroke-width="0.16" textLength="454.82" lengthAdjust="spacingAndGlyphs">Transformer-based Feature Representation Extraction</text>
<text x="648.35" y="444.50" font-size="21.02" text-anchor="start" fill="#111" stroke="#111" stroke-width="0.16" textLength="292.27" lengthAdjust="spacingAndGlyphs">Transformer-based Feature Fusion</text>
<text x="1147.68" y="444.50" font-size="21.04" text-anchor="start" fill="#111" stroke="#111" stroke-width="0.16" textLength="136.61" lengthAdjust="spacingAndGlyphs">Prediction Head</text>
</svg></body></html>
